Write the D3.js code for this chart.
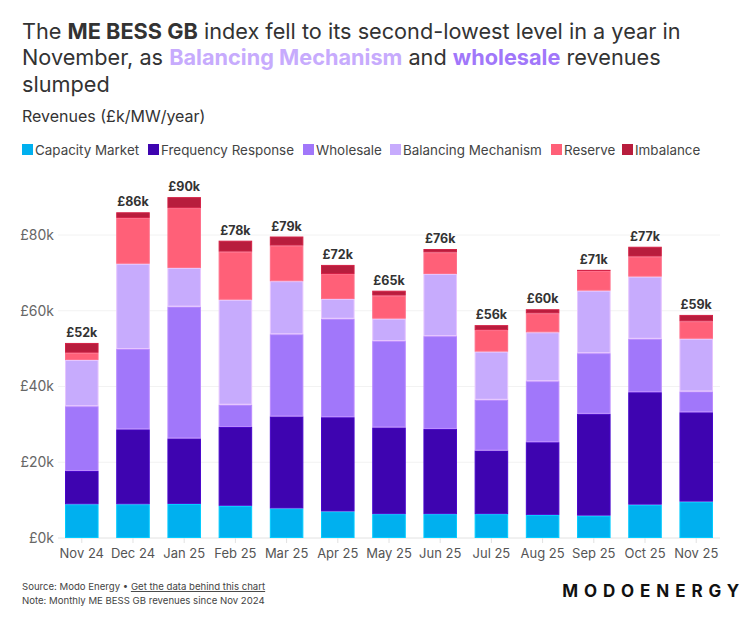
<!DOCTYPE html>
<html lang="en">
<head>
    <meta charset="UTF-8">
    <title>ME BESS GB index</title>
    <script src="https://d3js.org/d3.v7.min.js"></script>
    <style>
        body {
            margin: 0;
            background-color: #ffffff;
            font-family: Inter, "Noto Sans", sans-serif;
        }
        svg text { font-family: Inter, "Noto Sans", sans-serif; }
    </style>
</head>
<body>
    <div id="chart"></div>

    <script>
        // values in £k/MW/year
        const months = ["Nov 24", "Dec 24", "Jan 25", "Feb 25", "Mar 25", "Apr 25", "May 25",
                        "Jun 25", "Jul 25", "Aug 25", "Sep 25", "Oct 25", "Nov 25"];
        const capacityMarket     = [8.9, 8.9, 9.0, 8.5, 7.8, 7.0, 6.3, 6.3, 6.3, 6.1, 5.9, 8.8, 9.6];
        const frequencyResponse  = [8.8, 19.8, 17.3, 20.8, 24.3, 24.9, 22.9, 22.5, 16.8, 19.2, 26.9, 29.7, 23.6];
        const wholesale          = [17.1, 21.2, 34.8, 5.9, 21.7, 26.0, 22.8, 24.5, 13.4, 16.1, 16.0, 14.1, 5.5];
        const balancingMechanism = [12.2, 22.5, 10.2, 27.7, 14.0, 5.2, 5.9, 16.4, 12.7, 12.9, 16.5, 16.4, 13.9];
        const reserve            = [1.9, 12.1, 15.8, 12.7, 9.4, 6.6, 6.1, 5.7, 5.7, 5.0, 5.2, 5.3, 4.6];
        const imbalance          = [2.6, 1.5, 2.9, 2.9, 2.4, 2.4, 1.3, 0.9, 1.3, 1.1, 0.3, 2.6, 1.7];
        const totalLabels = ["£52k", "£86k", "£90k", "£78k", "£79k", "£72k", "£65k",
                             "£76k", "£56k", "£60k", "£71k", "£77k", "£59k"];
        const yTicks = [0, 20, 40, 60, 80];

        const seriesNames = ["Capacity Market", "Frequency Response", "Wholesale",
                             "Balancing Mechanism", "Reserve", "Imbalance"];
        const seriesValues = [capacityMarket, frequencyResponse, wholesale,
                              balancingMechanism, reserve, imbalance];
        const colors = ["#00b0ef", "#3e04b0", "#a177fa", "#c7abfd", "#ff6078", "#b81d3d"];

        const width = 752, height = 620;
        const margin = { top: 235, right: 32, bottom: 82, left: 58 };

        const rows = months.map((m, i) => {
            const r = { month: m };
            seriesNames.forEach((s, k) => r[s] = seriesValues[k][i]);
            return r;
        });
        const stacked = d3.stack().keys(seriesNames)(rows);

        const svg = d3.select("#chart")
            .append("svg")
            .attr("width", width)
            .attr("height", height);

        // title
        const title = svg.append("text")
            .attr("x", 22)
            .attr("y", 38.5)
            .style("font-size", "21.7px")
            .style("fill", "#333");
        const titleLines = [
            [["The ", 400, "#333"], ["ME BESS GB", 700, "#333"], [" index fell to its second-lowest level in a year in", 400, "#333"]],
            [["November, as ", 400, "#333"], ["Balancing Mechanism", 700, "#c7abfd"], [" and ", 400, "#333"], ["wholesale", 700, "#a177fa"], [" revenues", 400, "#333"]],
            [["slumped", 400, "#333"]]
        ];
        titleLines.forEach((line, li) => {
            line.forEach((part, pi) => {
                const t = title.append("tspan")
                    .text(part[0])
                    .style("font-weight", part[1])
                    .style("fill", part[2]);
                if (pi === 0) t.attr("x", 22).attr("dy", li === 0 ? 0 : 26.6);
            });
        });

        svg.append("text")
            .attr("x", 22)
            .attr("y", 122)
            .style("font-size", "16px")
            .style("fill", "#333")
            .text("Revenues (£k/MW/year)");

        // legend
        const legendX = [22, 148, 303, 390, 551, 622];
        const legend = svg.append("g");
        seriesNames.forEach((s, k) => {
            legend.append("rect")
                .attr("x", legendX[k])
                .attr("y", 144)
                .attr("width", 11)
                .attr("height", 11)
                .attr("fill", colors[k]);
            legend.append("text")
                .attr("x", legendX[k] + 13)
                .attr("y", 154.5)
                .style("font-size", "13.4px")
                .style("fill", "#444")
                .text(s);
        });

        const x = d3.scaleBand()
            .domain(months)
            .range([margin.left, width - margin.right])
            .paddingInner(0.345)
            .paddingOuter(0.137);

        const y = d3.scaleLinear()
            .domain([0, 80])
            .range([height - margin.bottom, margin.top]);

        // grid
        svg.append("g")
            .selectAll("line")
            .data(yTicks)
            .enter()
            .append("line")
            .attr("x1", margin.left)
            .attr("x2", width - margin.right)
            .attr("y1", d => y(d))
            .attr("y2", d => y(d))
            .attr("stroke", d => d === 0 ? "#e2e2e2" : "#f2f2f2")
            .attr("stroke-width", 1);

        svg.append("g")
            .selectAll("text")
            .data(yTicks)
            .enter()
            .append("text")
            .attr("x", margin.left - 4)
            .attr("y", d => y(d))
            .attr("dy", "0.35em")
            .attr("text-anchor", "end")
            .style("font-size", "14px")
            .style("fill", "#666")
            .text(d => "£" + d + "k");

        // x axis
        const xAxis = svg.append("g")
            .attr("transform", `translate(0,${height - margin.bottom})`)
            .call(d3.axisBottom(x).tickSize(5).tickPadding(6));
        xAxis.select(".domain").remove();
        xAxis.selectAll(".tick line").attr("stroke", "#e2e2e2");
        xAxis.selectAll(".tick text")
            .style("font-size", "13px")
            .style("fill", "#555")
            .style("font-family", "Inter, sans-serif");

        // bars
        svg.append("g")
            .selectAll("g")
            .data(stacked)
            .enter()
            .append("g")
            .attr("fill", (d, k) => colors[k])
            .attr("stroke", (d, k) => d3.color(colors[k]).brighter(0.4))
            .selectAll("rect")
            .data(d => d)
            .enter()
            .append("rect")
            .attr("x", d => x(d.data.month) + 0.5)
            .attr("y", d => y(d[1]) + 0.5)
            .attr("width", x.bandwidth() - 1)
            .attr("height", d => Math.max(0, y(d[0]) - y(d[1]) - 1))
            .attr("stroke-width", 1);

        // totals
        const topLayer = stacked[stacked.length - 1];
        svg.append("g")
            .selectAll("text")
            .data(topLayer)
            .enter()
            .append("text")
            .attr("x", d => x(d.data.month) + x.bandwidth() / 2)
            .attr("y", d => y(d[1]) - 6)
            .attr("text-anchor", "middle")
            .style("font-size", "12.5px")
            .style("font-weight", 700)
            .style("fill", "#333")
            .text((d, i) => totalLabels[i]);

        // footer
        const src = svg.append("text")
            .attr("x", 22)
            .attr("y", 590)
            .style("font-size", "9.6px")
            .style("fill", "#444");
        src.append("tspan").text("Source: Modo Energy • ");
        src.append("tspan").text("Get the data behind this chart").style("text-decoration", "underline");

        svg.append("text")
            .attr("x", 22)
            .attr("y", 604)
            .style("font-size", "9.6px")
            .style("fill", "#444")
            .text("Note: Monthly ME BESS GB revenues since Nov 2024");

        svg.append("text")
            .attr("x", 745)
            .attr("y", 597)
            .attr("text-anchor", "end")
            .style("font-size", "17px")
            .style("font-weight", 700)
            .style("letter-spacing", "5.9px")
            .style("fill", "#111")
            .text("MODOENERGY");
    </script>
</body>
</html>
